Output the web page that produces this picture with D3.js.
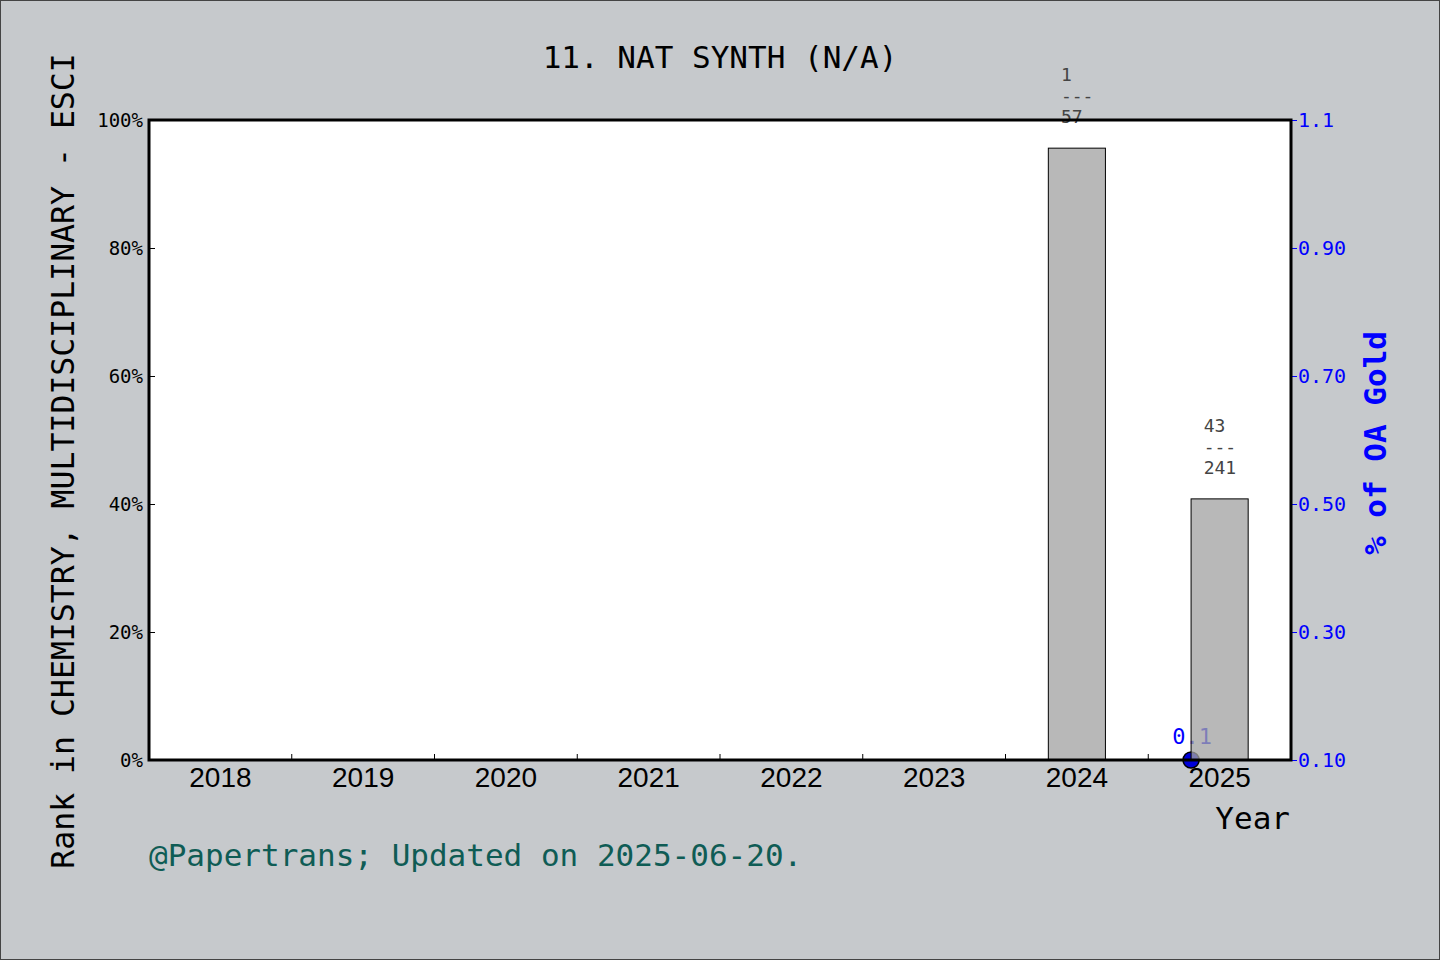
<!DOCTYPE html>
<html>
<head>
<meta charset="utf-8">
<script src="https://cdn.jsdelivr.net/npm/d3@7"></script>
<style>
  html, body { margin: 0; padding: 0; background: #c6c9cc; }
  svg { display: block; }
</style>
</head>
<body>
<svg id="chart"></svg>
<script>
// chart values
var years = ["2018", "2019", "2020", "2021", "2022", "2023", "2024", "2025"];
var rankPct = [null, null, null, null, null, null, 95.6, 40.8];
var rankTop = [null, null, null, null, null, null, "1", "43"];
var rankTotal = [null, null, null, null, null, null, "57", "241"];
var oaGold = [null, null, null, null, null, null, null, 0.1];
var leftTicks = [0, 20, 40, 60, 80, 100];
var rightTicks = [0.1, 0.3, 0.5, 0.7, 0.9, 1.1];
var rightTickLabels = ["0.10", "0.30", "0.50", "0.70", "0.90", "1.1"];

var width = 1440;
var height = 960;
var mono = "'DejaVu Sans Mono', monospace";
var sans = "'Liberation Sans', Arial, sans-serif";
var plot = {left: 149, right: 1291, top: 120, bottom: 760};

var svg = d3.select("#chart").attr("width", width).attr("height", height);

// figure background and border
svg.append("rect")
    .attr("x", 0.5).attr("y", 0.5)
    .attr("width", width - 1).attr("height", height - 1)
    .attr("fill", "#c6c9cc")
    .attr("stroke", "#444");

// scales
var x = d3.scaleBand().domain(years).range([plot.left, plot.right]);
var y = d3.scaleLinear().domain([0, 100]).range([plot.bottom, plot.top]);
var y2 = d3.scaleLinear().domain([0.1, 1.1]).range([plot.bottom, plot.top]);
var barW = x.bandwidth() * 0.4;

// plot area
svg.append("rect")
    .attr("x", plot.left).attr("y", plot.top)
    .attr("width", plot.right - plot.left).attr("height", plot.bottom - plot.top)
    .attr("fill", "#fff");

// line series point (drawn under the bars)
var pts = years.map(function(d, i) { return {year: d, v: oaGold[i]}; })
    .filter(function(d) { return d.v != null; });
var pg = svg.append("g");
pg.selectAll("circle")
    .data(pts)
    .enter()
    .append("circle")
    .attr("cx", function(d) { return x(d.year) + x.bandwidth() / 2 - barW / 2; })
    .attr("cy", function(d) { return y2(d.v); })
    .attr("r", 8)
    .attr("fill", "#0000d8")
    .attr("stroke", "#000")
    .attr("stroke-width", 1.5);
pg.selectAll("text")
    .data(pts)
    .enter()
    .append("text")
    .attr("x", function(d) { return x(d.year) + x.bandwidth() / 2 - barW / 2 + 1; })
    .attr("y", function(d) { return y2(d.v) - 16; })
    .attr("text-anchor", "middle")
    .attr("fill", "#0000ff")
    .style("font-family", mono)
    .style("font-size", "22px")
    .text(function(d) { return String(d.v); });

// bars
var bars = years.map(function(d, i) {
    return {year: d, v: rankPct[i], top: rankTop[i], total: rankTotal[i]};
}).filter(function(d) { return d.v != null; });

svg.append("g")
    .selectAll("rect")
    .data(bars)
    .enter()
    .append("rect")
    .attr("x", function(d) { return x(d.year) + x.bandwidth() / 2 - barW / 2; })
    .attr("y", function(d) { return y(d.v); })
    .attr("width", barW)
    .attr("height", function(d) { return y(0) - y(d.v); })
    .attr("fill", "#a2a2a3")
    .attr("fill-opacity", 0.77)
    .attr("stroke", "#000")
    .attr("stroke-width", 1);

// rank labels above bars
var lab = svg.append("g")
    .style("font-family", mono)
    .style("font-size", "18px")
    .attr("fill", "#444");
bars.forEach(function(d) {
    var lx = x(d.year) + x.bandwidth() / 2 - 16;
    var base = y(d.v) - 31 + 6;
    var lines = [d.top, "---", d.total];
    lines.forEach(function(t, k) {
        lab.append("text")
            .attr("x", lx)
            .attr("y", base - (2 - k) * 21)
            .text(t);
    });
});

// x axis labels
var xAxis = svg.append("g")
    .attr("transform", "translate(0," + plot.bottom + ")")
    .call(d3.axisBottom(x).tickSize(0).tickPadding(7));
xAxis.select(".domain").remove();
xAxis.selectAll("text")
    .style("font-family", sans)
    .style("font-size", "28px")
    .attr("fill", "#000");

// x ticks between years, pointing in
svg.append("g")
    .selectAll("line")
    .data(years.slice(1))
    .enter()
    .append("line")
    .attr("x1", function(d) { return x(d); })
    .attr("x2", function(d) { return x(d); })
    .attr("y1", plot.bottom)
    .attr("y2", plot.bottom - 6)
    .attr("stroke", "#000")
    .attr("stroke-width", 1);

// left axis
var yAxis = svg.append("g")
    .attr("transform", "translate(" + plot.left + ",0)")
    .call(d3.axisLeft(y).tickValues(leftTicks).tickSize(-6).tickPadding(6)
        .tickFormat(function(d) { return d + "%"; }));
yAxis.select(".domain").remove();
yAxis.selectAll("text")
    .style("font-family", mono)
    .style("font-size", "19px")
    .attr("fill", "#000");
yAxis.selectAll("line").attr("stroke", "#000");

// right axis
var y2Axis = svg.append("g")
    .attr("transform", "translate(" + plot.right + ",0)")
    .call(d3.axisRight(y2).tickValues(rightTicks).tickSize(6).tickPadding(1)
        .tickFormat(function(d, i) { return rightTickLabels[i]; }));
y2Axis.select(".domain").remove();
y2Axis.selectAll("text")
    .style("font-family", mono)
    .style("font-size", "20px")
    .attr("fill", "#0000ff");
y2Axis.selectAll("line").attr("stroke", "#0000ff");

// frame
svg.append("rect")
    .attr("x", plot.left).attr("y", plot.top)
    .attr("width", plot.right - plot.left).attr("height", plot.bottom - plot.top)
    .attr("fill", "none")
    .attr("stroke", "#000")
    .attr("stroke-width", 3);

// title
svg.append("text")
    .attr("x", 720)
    .attr("y", 68)
    .attr("text-anchor", "middle")
    .style("font-family", mono)
    .style("font-size", "31px")
    .text("11. NAT SYNTH (N/A)");

// axis titles
svg.append("text")
    .attr("transform", "translate(74,461) rotate(-90)")
    .attr("text-anchor", "middle")
    .style("font-family", mono)
    .style("font-size", "31.5px")
    .text("Rank in CHEMISTRY, MULTIDISCIPLINARY - ESCI");

svg.append("text")
    .attr("transform", "translate(1386,443) rotate(-90)")
    .attr("text-anchor", "middle")
    .attr("fill", "#0000ff")
    .style("font-family", mono)
    .style("font-size", "31px")
    .style("font-weight", "bold")
    .text("% of OA Gold");

svg.append("text")
    .attr("x", 1290)
    .attr("y", 829)
    .attr("text-anchor", "end")
    .style("font-family", mono)
    .style("font-size", "31px")
    .text("Year");

// footer
svg.append("text")
    .attr("x", 149)
    .attr("y", 866)
    .attr("fill", "#0f5c55")
    .style("font-family", mono)
    .style("font-size", "31px")
    .text("@Papertrans; Updated on 2025-06-20.");
</script>
</body>
</html>
